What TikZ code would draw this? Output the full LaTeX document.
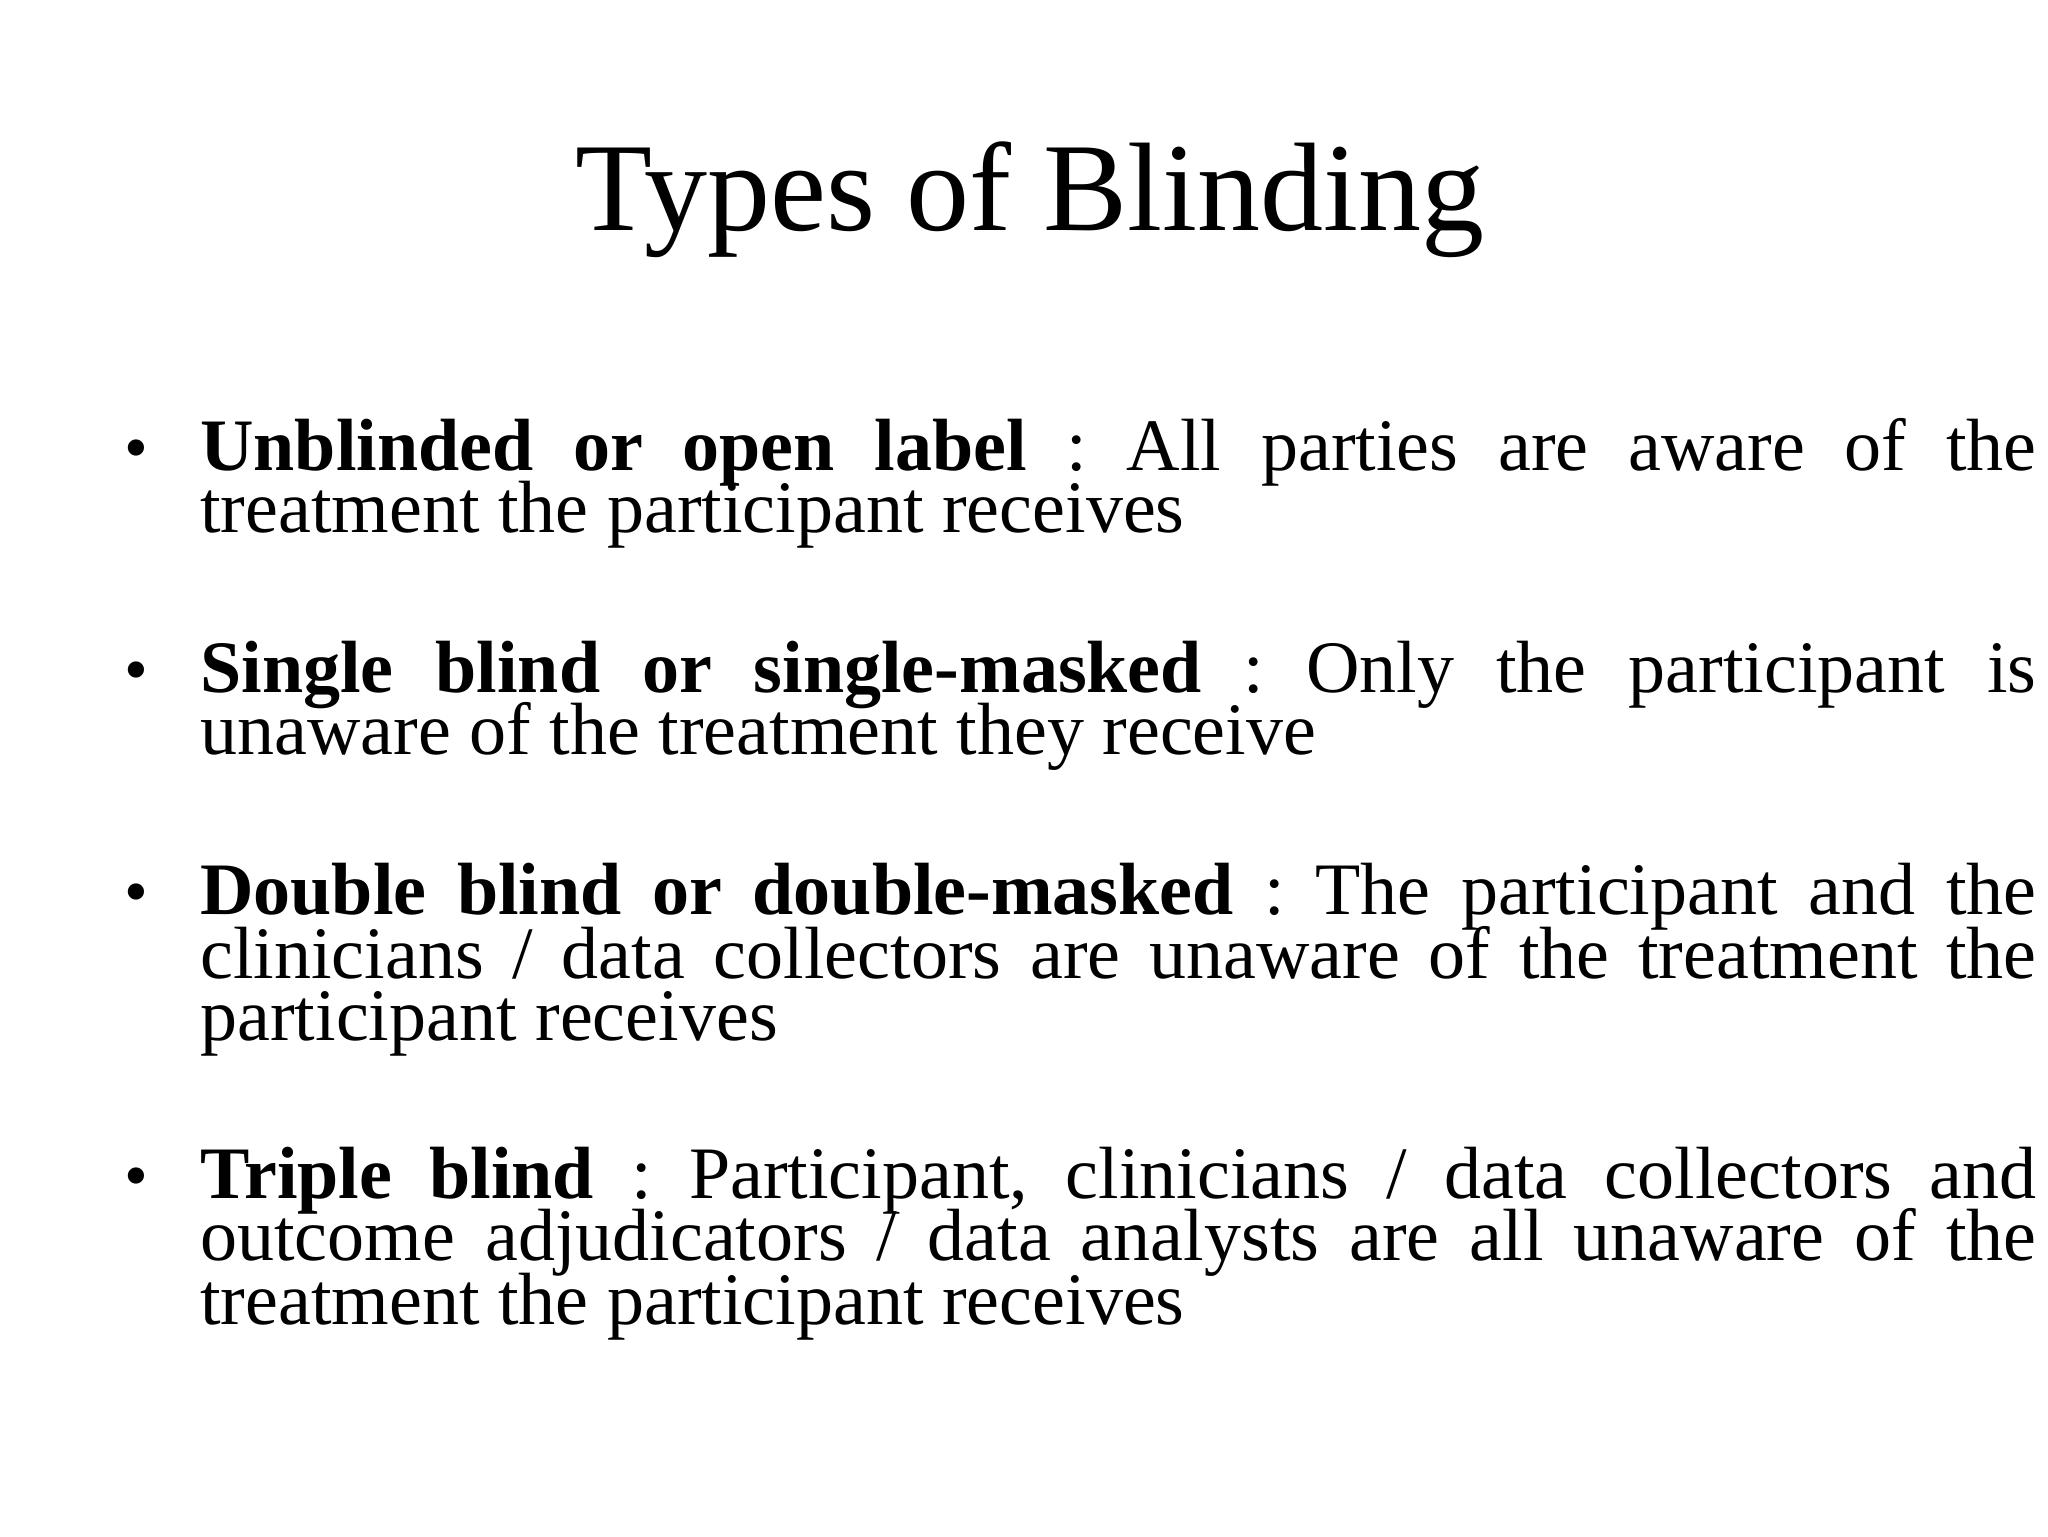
\documentclass[tikz,border=0pt]{standalone}
\usepackage{fontspec}
\setmainfont{Liberation Serif}
\frenchspacing
\begin{document}
\begin{tikzpicture}[x=1pt,y=-1pt,
  ln/.style={anchor=base west,inner sep=0pt,font=\fontsize{37}{37}\selectfont},
  bul/.style={anchor=base,inner sep=0pt,font=\fontsize{34}{34}\selectfont}]
\useasboundingbox (0,0) rectangle (1024,768);
\node[anchor=base,inner sep=0pt,font=\fontsize{63}{63}\selectfont] (title) at (515,115) {Types of Blinding};
\newcommand\jl[1]{\makebox[918pt][s]{#1}}
\node[bul] (b1) at (68,235) {•};
\node[ln] (l11) at (100,235) {\jl{\textbf{Unblinded or open label} : All parties are aware of the}};
\node[ln] (l12) at (100,266) {treatment the participant receives};
\node[bul] (b2) at (68,346) {•};
\node[ln] (l21) at (100,346) {\jl{\textbf{Single blind or single-masked} : Only the participant is}};
\node[ln] (l22) at (100,377) {unaware of the treatment they receive};
\node[bul] (b3) at (68,457) {•};
\node[ln] (l31) at (100,457) {\jl{\textbf{Double blind or double-masked} : The participant and the}};
\node[ln] (l32) at (100,489) {\jl{clinicians / data collectors are unaware of the treatment the}};
\node[ln] (l33) at (100,520) {participant receives};
\node[bul] (b4) at (68,599) {•};
\node[ln] (l41) at (100,599) {\jl{\textbf{Triple blind} : Participant, clinicians / data collectors and}};
\node[ln] (l42) at (100,630) {\jl{outcome adjudicators / data analysts are all unaware of the}};
\node[ln] (l43) at (100,662) {treatment the participant receives};
\end{tikzpicture}
\end{document}
